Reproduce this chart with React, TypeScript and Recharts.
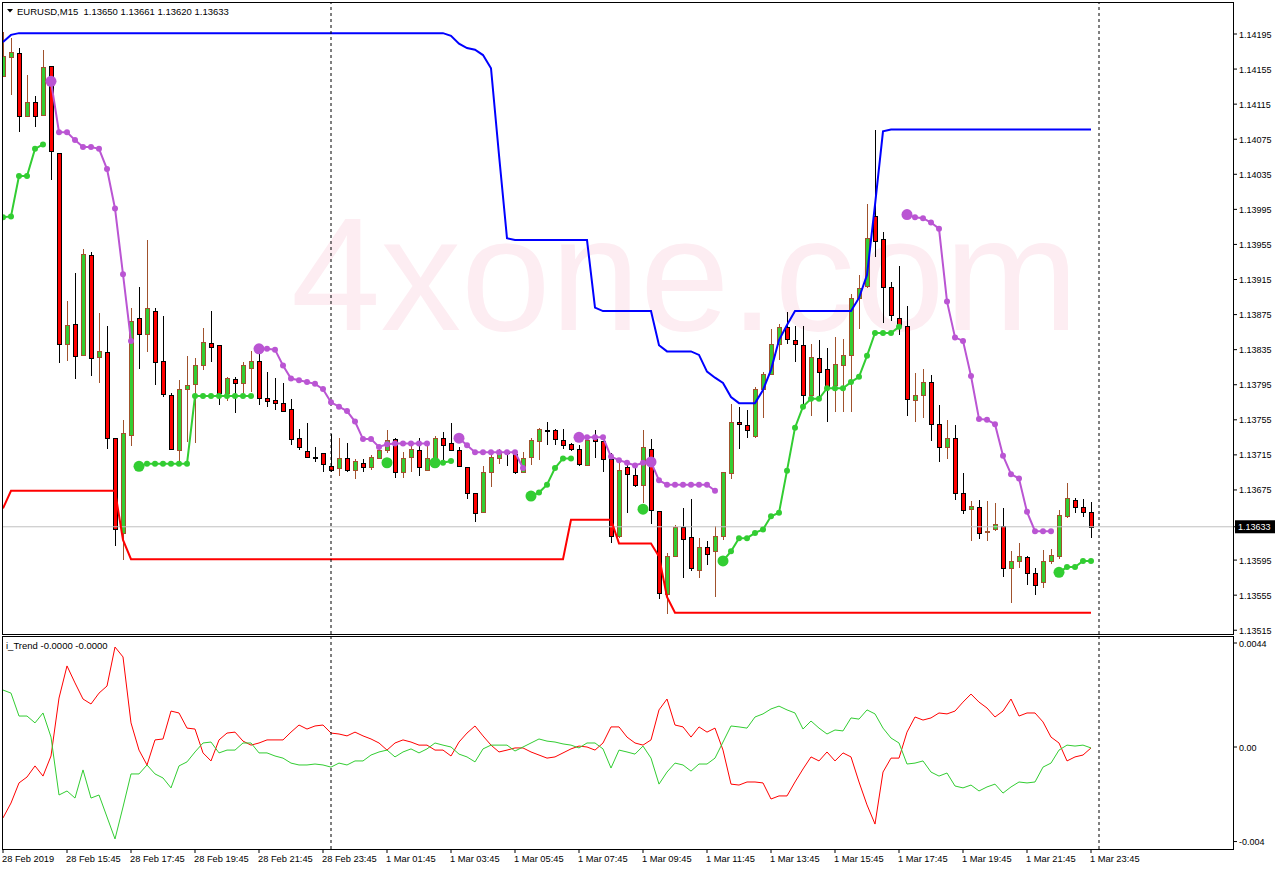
import React from 'react';
import { ComposedChart, LineChart, Line, Bar, XAxis, YAxis, ReferenceLine } from 'recharts';

const FONT = "'Liberation Sans', Arial, sans-serif";
const W = 1276;

// EURUSD M15, bars from 28 Feb 13:45 to 1 Mar 23:45
const opens = [
  1.14147, 1.14169, 1.14173, 1.14102, 1.14118, 1.14103, 1.14158, 1.14059, 1.13842, 1.13864,
  1.13829, 1.13943, 1.13827, 1.13832, 1.13734, 1.13626, 1.13738, 1.13871, 1.13853, 1.13879,
  1.13822, 1.13783, 1.13721, 1.13790, 1.13796, 1.13817, 1.13843, 1.13840, 1.13786, 1.13802,
  1.13797, 1.13814, 1.13822, 1.13780, 1.13778, 1.13774, 1.13767, 1.13734, 1.13719, 1.13713,
  1.13717, 1.13702, 1.13700, 1.13711, 1.13698, 1.13706, 1.13701, 1.13711, 1.13721, 1.13733,
  1.13695, 1.13712, 1.13721, 1.13698, 1.13710, 1.13734, 1.13728, 1.13720, 1.13701, 1.13671,
  1.13650, 1.13695, 1.13711, 1.13718, 1.13716, 1.13695, 1.13712, 1.13731, 1.13743, 1.13743,
  1.13732, 1.13727, 1.13722, 1.13704, 1.13733, 1.13731, 1.13710, 1.13622, 1.13701, 1.13692,
  1.13681, 1.13722, 1.13651, 1.13556, 1.13600, 1.13633, 1.13621, 1.13584, 1.13610, 1.13605,
  1.13622, 1.13694, 1.13753, 1.13749, 1.13737, 1.13790, 1.13807, 1.13842, 1.13861, 1.13846,
  1.13840, 1.13783, 1.13826, 1.13813, 1.13795, 1.13818, 1.13829, 1.13894, 1.13908, 1.13988,
  1.13961, 1.13907, 1.13871, 1.13862, 1.13778, 1.13783, 1.13798, 1.13750, 1.13724, 1.13734,
  1.13671, 1.13653, 1.13655, 1.13627, 1.13630, 1.13634, 1.13586, 1.13594, 1.13598, 1.13580,
  1.13570, 1.13594, 1.13600, 1.13645, 1.13664, 1.13655, 1.13650,
];
const highs = [
  1.14197, 1.14190, 1.14179, 1.14148, 1.14124, 1.14177, 1.14158, 1.14059, 1.13891, 1.13922,
  1.13950, 1.13946, 1.13877, 1.13862, 1.13734, 1.13755, 1.13883, 1.13907, 1.13960, 1.13883,
  1.13873, 1.13785, 1.13800, 1.13828, 1.13826, 1.13860, 1.13879, 1.13840, 1.13804, 1.13804,
  1.13821, 1.13834, 1.13830, 1.13810, 1.13803, 1.13797, 1.13779, 1.13744, 1.13751, 1.13724,
  1.13717, 1.13739, 1.13734, 1.13728, 1.13710, 1.13710, 1.13715, 1.13722, 1.13743, 1.13734,
  1.13718, 1.13728, 1.13734, 1.13728, 1.13737, 1.13741, 1.13751, 1.13724, 1.13701, 1.13672,
  1.13702, 1.13720, 1.13722, 1.13720, 1.13719, 1.13718, 1.13734, 1.13746, 1.13753, 1.13744,
  1.13744, 1.13729, 1.13726, 1.13735, 1.13743, 1.13731, 1.13717, 1.13706, 1.13709, 1.13706,
  1.13743, 1.13733, 1.13651, 1.13603, 1.13635, 1.13654, 1.13665, 1.13620, 1.13617, 1.13634,
  1.13695, 1.13773, 1.13770, 1.13766, 1.13792, 1.13809, 1.13859, 1.13864, 1.13878, 1.13862,
  1.13862, 1.13841, 1.13846, 1.13837, 1.13849, 1.13847, 1.13898, 1.13920, 1.14001, 1.14086,
  1.13969, 1.13912, 1.13930, 1.13885, 1.13808, 1.13813, 1.13806, 1.13772, 1.13755, 1.13749,
  1.13694, 1.13662, 1.13664, 1.13662, 1.13660, 1.13654, 1.13605, 1.13614, 1.13600, 1.13586,
  1.13606, 1.13608, 1.13652, 1.13683, 1.13666, 1.13665, 1.13661,
];
const lows = [
  1.14146, 1.14125, 1.14083, 1.14102, 1.14089, 1.14102, 1.14028, 1.13820, 1.13822, 1.13802,
  1.13829, 1.13805, 1.13797, 1.13722, 1.13611, 1.13595, 1.13725, 1.13813, 1.13832, 1.13795,
  1.13781, 1.13721, 1.13706, 1.13730, 1.13729, 1.13812, 1.13821, 1.13772, 1.13776, 1.13763,
  1.13786, 1.13787, 1.13772, 1.13770, 1.13766, 1.13765, 1.13726, 1.13721, 1.13712, 1.13707,
  1.13696, 1.13696, 1.13691, 1.13695, 1.13688, 1.13695, 1.13698, 1.13710, 1.13717, 1.13689,
  1.13689, 1.13696, 1.13691, 1.13697, 1.13702, 1.13709, 1.13720, 1.13701, 1.13665, 1.13639,
  1.13649, 1.13678, 1.13705, 1.13702, 1.13693, 1.13694, 1.13703, 1.13709, 1.13726, 1.13726,
  1.13722, 1.13719, 1.13702, 1.13704, 1.13711, 1.13695, 1.13614, 1.13620, 1.13649, 1.13678,
  1.13660, 1.13636, 1.13551, 1.13534, 1.13598, 1.13575, 1.13583, 1.13574, 1.13589, 1.13553,
  1.13618, 1.13688, 1.13722, 1.13734, 1.13734, 1.13757, 1.13806, 1.13823, 1.13842, 1.13821,
  1.13770, 1.13759, 1.13781, 1.13753, 1.13764, 1.13764, 1.13764, 1.13858, 1.13905, 1.13941,
  1.13865, 1.13868, 1.13852, 1.13759, 1.13753, 1.13757, 1.13731, 1.13707, 1.13710, 1.13663,
  1.13647, 1.13617, 1.13619, 1.13617, 1.13628, 1.13576, 1.13546, 1.13586, 1.13567, 1.13555,
  1.13563, 1.13591, 1.13596, 1.13643, 1.13649, 1.13644, 1.13620,
];
const closes = [
  1.14170, 1.14174, 1.14102, 1.14118, 1.14102, 1.14157, 1.14062, 1.13841, 1.13863, 1.13828,
  1.13944, 1.13826, 1.13833, 1.13734, 1.13630, 1.13740, 1.13868, 1.13853, 1.13883, 1.13821,
  1.13784, 1.13722, 1.13790, 1.13795, 1.13817, 1.13844, 1.13838, 1.13786, 1.13803, 1.13797,
  1.13818, 1.13822, 1.13780, 1.13777, 1.13774, 1.13765, 1.13733, 1.13724, 1.13713, 1.13713,
  1.13705, 1.13698, 1.13711, 1.13698, 1.13708, 1.13701, 1.13712, 1.13720, 1.13732, 1.13695,
  1.13711, 1.13722, 1.13701, 1.13711, 1.13734, 1.13726, 1.13720, 1.13702, 1.13671, 1.13649,
  1.13695, 1.13712, 1.13718, 1.13717, 1.13695, 1.13711, 1.13732, 1.13744, 1.13742, 1.13733,
  1.13726, 1.13722, 1.13705, 1.13732, 1.13731, 1.13710, 1.13622, 1.13698, 1.13693, 1.13681,
  1.13724, 1.13652, 1.13557, 1.13600, 1.13633, 1.13619, 1.13586, 1.13610, 1.13602, 1.13623,
  1.13695, 1.13752, 1.13750, 1.13743, 1.13790, 1.13807, 1.13841, 1.13861, 1.13847, 1.13841,
  1.13783, 1.13827, 1.13809, 1.13793, 1.13819, 1.13829, 1.13894, 1.13905, 1.13962, 1.13959,
  1.13906, 1.13874, 1.13862, 1.13779, 1.13783, 1.13798, 1.13750, 1.13724, 1.13734, 1.13671,
  1.13652, 1.13657, 1.13626, 1.13628, 1.13636, 1.13586, 1.13594, 1.13600, 1.13580, 1.13567,
  1.13594, 1.13601, 1.13646, 1.13666, 1.13655, 1.13650, 1.13633,
];

// channel lines
const upperBand = [
  1.14186, 1.14194, 1.14196, 1.14196, 1.14196, 1.14196, 1.14196, 1.14196, 1.14196, 1.14196,
  1.14196, 1.14196, 1.14196, 1.14196, 1.14196, 1.14196, 1.14196, 1.14196, 1.14196, 1.14196,
  1.14196, 1.14196, 1.14196, 1.14196, 1.14196, 1.14196, 1.14196, 1.14196, 1.14196, 1.14196,
  1.14196, 1.14196, 1.14196, 1.14196, 1.14196, 1.14196, 1.14196, 1.14196, 1.14196, 1.14196,
  1.14196, 1.14196, 1.14196, 1.14196, 1.14196, 1.14196, 1.14196, 1.14196, 1.14196, 1.14196,
  1.14196, 1.14196, 1.14196, 1.14196, 1.14196, 1.14196, 1.14193, 1.14184, 1.14179, 1.14177,
  1.14171, 1.14156, 1.14057, 1.13962, 1.13960, 1.13960, 1.13960, 1.13960, 1.13960, 1.13960,
  1.13960, 1.13960, 1.13960, 1.13960, 1.13883, 1.13879, 1.13879, 1.13879, 1.13879, 1.13879,
  1.13879, 1.13879, 1.13840, 1.13833, 1.13833, 1.13833, 1.13833, 1.13829, 1.13810, 1.13803,
  1.13797, 1.13781, 1.13774, 1.13774, 1.13774, 1.13789, 1.13812, 1.13846, 1.13863, 1.13879,
  1.13879, 1.13879, 1.13879, 1.13879, 1.13879, 1.13879, 1.13879, 1.13894, 1.13920, 1.14000,
  1.14084, 1.14086, 1.14086, 1.14086, 1.14086, 1.14086, 1.14086, 1.14086, 1.14086, 1.14086,
  1.14086, 1.14086, 1.14086, 1.14086, 1.14086, 1.14086, 1.14086, 1.14086, 1.14086, 1.14086,
  1.14086, 1.14086, 1.14086, 1.14086, 1.14086, 1.14086, 1.14086,
];
const lowerBand = [
  1.13654, 1.13674, 1.13674, 1.13674, 1.13674, 1.13674, 1.13674, 1.13674, 1.13674, 1.13674,
  1.13674, 1.13674, 1.13674, 1.13674, 1.13674, 1.13618, 1.13596, 1.13596, 1.13596, 1.13596,
  1.13596, 1.13596, 1.13596, 1.13596, 1.13596, 1.13596, 1.13596, 1.13596, 1.13596, 1.13596,
  1.13596, 1.13596, 1.13596, 1.13596, 1.13596, 1.13596, 1.13596, 1.13596, 1.13596, 1.13596,
  1.13596, 1.13596, 1.13596, 1.13596, 1.13596, 1.13596, 1.13596, 1.13596, 1.13596, 1.13596,
  1.13596, 1.13596, 1.13596, 1.13596, 1.13596, 1.13596, 1.13596, 1.13596, 1.13596, 1.13596,
  1.13596, 1.13596, 1.13596, 1.13596, 1.13596, 1.13596, 1.13596, 1.13596, 1.13596, 1.13596,
  1.13596, 1.13641, 1.13641, 1.13641, 1.13641, 1.13641, 1.13641, 1.13614, 1.13614, 1.13614,
  1.13614, 1.13614, 1.13599, 1.13553, 1.13535, 1.13535, 1.13535, 1.13535, 1.13535, 1.13535,
  1.13535, 1.13535, 1.13535, 1.13535, 1.13535, 1.13535, 1.13535, 1.13535, 1.13535, 1.13535,
  1.13535, 1.13535, 1.13535, 1.13535, 1.13535, 1.13535, 1.13535, 1.13535, 1.13535, 1.13535,
  1.13535, 1.13535, 1.13535, 1.13535, 1.13535, 1.13535, 1.13535, 1.13535, 1.13535, 1.13535,
  1.13535, 1.13535, 1.13535, 1.13535, 1.13535, 1.13535, 1.13535, 1.13535, 1.13535, 1.13535,
  1.13535, 1.13535, 1.13535, 1.13535, 1.13535, 1.13535, 1.13535,
];

// dotted trend lines (purple = down, green = up)
const N = null;
const downTrend = [
  N, N, N, N, N, N, 1.14141, 1.14083, 1.14083, 1.14074,
  1.14066, 1.14066, 1.14064, 1.14041, 1.13996, 1.13921, 1.13845, N, N, N,
  N, N, N, N, N, N, N, N, N, N,
  N, N, 1.13836, 1.13836, 1.13835, 1.13817, 1.13802, 1.13800, 1.13798, 1.13796,
  1.13790, 1.13775, 1.13770, 1.13765, 1.13753, 1.13733, 1.13733, 1.13724, 1.13727, 1.13728,
  1.13728, 1.13728, 1.13728, 1.13728, N, N, N, 1.13734, 1.13726, 1.13718,
  1.13718, 1.13718, 1.13718, 1.13718, 1.13718, 1.13700, N, N, N, N,
  N, N, 1.13735, 1.13735, 1.13735, 1.13735, 1.13713, 1.13709, 1.13706, 1.13703,
  1.13706, 1.13707, 1.13686, 1.13681, 1.13681, 1.13681, 1.13681, 1.13681, 1.13681, 1.13674,
  N, N, N, N, N, N, N, N, N, N,
  N, N, N, N, N, N, N, N, N, N,
  N, N, N, 1.13989, 1.13986, 1.13985, 1.13980, 1.13973, 1.13890, 1.13849,
  1.13845, 1.13805, 1.13756, 1.13755, 1.13750, 1.13714, 1.13693, 1.13688, 1.13650, 1.13628,
  1.13628, 1.13628, N, N, N, N, N,
];
const upTrend = [
  1.13986, 1.13987, 1.14033, 1.14033, 1.14064, 1.14069, N, N, N, N,
  N, N, N, N, N, N, N, 1.13702, 1.13705, 1.13705,
  1.13705, 1.13705, 1.13705, 1.13705, 1.13782, 1.13782, 1.13782, 1.13782, 1.13782, 1.13782,
  1.13782, 1.13782, N, N, N, N, N, N, N, N,
  N, N, N, N, N, N, N, N, 1.13706, N,
  N, N, N, N, 1.13706, 1.13706, 1.13708, N, N, N,
  N, N, N, N, N, N, 1.13668, 1.13672, 1.13681, 1.13700,
  1.13711, 1.13711, N, N, N, N, N, N, N, N,
  1.13653, N, N, N, N, N, N, N, N, N,
  1.13594, 1.13605, 1.13620, 1.13620, 1.13626, 1.13630, 1.13645, 1.13649, 1.13697, 1.13746,
  1.13770, 1.13779, 1.13779, 1.13791, 1.13791, 1.13791, 1.13798, 1.13804, 1.13828, 1.13854,
  1.13854, 1.13854, 1.13861, N, N, N, N, N, N, N,
  N, N, N, N, N, N, N, N, N, N,
  N, N, 1.13581, 1.13587, 1.13587, 1.13594, 1.13594,
];
const downStarts = [6, 32, 57, 72, 81, 113];
const upStarts = [17, 48, 54, 66, 80, 90, 132];

// i_Trend sub-window
const trendRed = [
  -0.00300, -0.00237, -0.00152, -0.00127, -0.00080, -0.00123, -0.00038, 0.00207, 0.00343, 0.00271,
  0.00203, 0.00182, 0.00228, 0.00258, 0.00423, 0.00381, 0.00102, -0.00013, -0.00076, 0.00030,
  0.00034, 0.00152, 0.00144, 0.00080, 0.00076, -0.00025, -0.00059, 0.00030, 0.00059, 0.00063,
  0.00025, 0.00008, 0.00017, 0.00030, 0.00030, 0.00030, 0.00063, 0.00093, 0.00076, 0.00089,
  0.00093, 0.00059, 0.00055, 0.00047, 0.00063, 0.00047, 0.00034, 0.00017, -0.00013, 0.00017,
  0.00030, 0.00021, 0.00008, 0.00008, -0.00013, -0.00013, -0.00038, 0.00021, 0.00059, 0.00089,
  0.00047, 0.00008, -0.00021, -0.00013, -0.00004, -0.00004, -0.00021, -0.00034, -0.00047, -0.00042,
  -0.00025, -0.00008, 0.00004, 0.00000, -0.00013, 0.00017, 0.00085, 0.00085, 0.00042, 0.00017,
  0.00008, 0.00030, 0.00157, 0.00203, 0.00093, 0.00085, 0.00042, 0.00085, 0.00063, 0.00080,
  -0.00013, -0.00157, -0.00161, -0.00148, -0.00148, -0.00152, -0.00220, -0.00207, -0.00207, -0.00148,
  -0.00093, -0.00042, -0.00059, -0.00021, -0.00059, -0.00025, -0.00042, -0.00148, -0.00245, -0.00326,
  -0.00106, -0.00047, -0.00047, 0.00063, 0.00127, 0.00114, 0.00123, 0.00144, 0.00140, 0.00152,
  0.00190, 0.00224, 0.00190, 0.00165, 0.00127, 0.00152, 0.00203, 0.00131, 0.00144, 0.00144,
  0.00106, 0.00042, 0.00017, -0.00059, -0.00042, -0.00034, -0.00004,
];
const trendGreen = [
  0.00241, 0.00228, 0.00131, 0.00131, 0.00102, 0.00144, 0.00042, -0.00203, -0.00186, -0.00216,
  -0.00097, -0.00216, -0.00203, -0.00296, -0.00389, -0.00254, -0.00114, -0.00114, -0.00076, -0.00114,
  -0.00131, -0.00173, -0.00080, -0.00063, -0.00021, 0.00017, 0.00021, -0.00025, -0.00013, -0.00013,
  0.00017, 0.00017, -0.00025, -0.00025, -0.00038, -0.00047, -0.00068, -0.00076, -0.00076, -0.00072,
  -0.00076, -0.00085, -0.00068, -0.00076, -0.00059, -0.00059, -0.00034, -0.00021, -0.00013, -0.00042,
  -0.00021, -0.00008, -0.00025, -0.00008, 0.00017, 0.00008, 0.00000, -0.00030, -0.00042, -0.00063,
  -0.00008, 0.00008, 0.00008, 0.00008, -0.00017, 0.00000, 0.00017, 0.00034, 0.00025, 0.00021,
  0.00013, 0.00008, -0.00004, 0.00017, 0.00017, -0.00008, -0.00089, -0.00013, -0.00021, -0.00030,
  0.00004, -0.00047, -0.00157, -0.00106, -0.00068, -0.00076, -0.00102, -0.00072, -0.00072, -0.00047,
  0.00021, 0.00089, 0.00085, 0.00080, 0.00127, 0.00140, 0.00161, 0.00173, 0.00157, 0.00144,
  0.00076, 0.00110, 0.00080, 0.00055, 0.00072, 0.00068, 0.00123, 0.00118, 0.00157, 0.00140,
  0.00080, 0.00038, 0.00017, -0.00072, -0.00068, -0.00059, -0.00106, -0.00123, -0.00110, -0.00165,
  -0.00173, -0.00161, -0.00186, -0.00169, -0.00157, -0.00195, -0.00169, -0.00148, -0.00152, -0.00148,
  -0.00085, -0.00068, -0.00013, 0.00008, 0.00004, 0.00008, -0.00004,
];

const currentPrice = 1.13633;
const priceTicks = [
  1.14195, 1.14155, 1.14115, 1.14075, 1.14035, 1.13995, 1.13955, 1.13915, 1.13875,
  1.13835, 1.13795, 1.13755, 1.13715, 1.13675, 1.13595, 1.13555, 1.13515,
];
const trendTicks = [0.0044, 0, -0.004];
const trendTickLabels = ['0.0044', '0.00', '-0.004'];
const timeTicks = [0, 8, 16, 24, 32, 40, 48, 56, 64, 72, 80, 88, 96, 104, 112, 120, 128, 136];
const timeLabels = [
  '28 Feb 2019', '28 Feb 15:45', '28 Feb 17:45', '28 Feb 19:45', '28 Feb 21:45', '28 Feb 23:45',
  '1 Mar 01:45', '1 Mar 03:45', '1 Mar 05:45', '1 Mar 07:45', '1 Mar 09:45', '1 Mar 11:45',
  '1 Mar 13:45', '1 Mar 15:45', '1 Mar 17:45', '1 Mar 19:45', '1 Mar 21:45', '1 Mar 23:45',
];
const daySeparators = [41, 137];

const X_DOMAIN: [number, number] = [-0.125, 153.75];
const PRICE_DOMAIN: [number, number] = [1.135107, 1.142315];
const TREND_DOMAIN: [number, number] = [-0.004315, 0.004654];

const rows = opens.map((open, i) => ({
  i,
  open,
  high: highs[i],
  low: lows[i],
  close: closes[i],
  upper: upperBand[i],
  lower: lowerBand[i],
  down: downTrend[i],
  up: upTrend[i],
  downStart: downStarts.includes(i),
  upStart: upStarts.includes(i),
}));
const subRows = trendRed.map((red, i) => ({ i, red, green: trendGreen[i] }));

const Candle = (props: any) => {
  const { x, y, width, height, payload } = props;
  if (x == null || y == null || !payload) return <g />;
  const { open, high, low, close } = payload;
  const cx = Math.round(x + width / 2);
  const span = high - low;
  const py = (p: number) => y + (span > 0 ? ((high - p) / span) * height : 0);
  const bull = close > open;
  const top = Math.round(py(Math.max(open, close)));
  const bot = Math.round(py(Math.min(open, close)));
  const stroke = bull ? '#A0522D' : '#000000';
  return (
    <g>
      <line x1={cx + 0.5} x2={cx + 0.5} y1={Math.round(y)} y2={Math.round(y + height)} stroke={stroke} strokeWidth={1} />
      <rect
        x={cx - 1.5}
        y={top + 0.5}
        width={4}
        height={Math.max(bot - top, 1)}
        fill={bull ? '#32CD32' : '#FF0000'}
        stroke={stroke}
        strokeWidth={1}
      />
    </g>
  );
};

const makeDot = (color: string, valKey: string, startKey: string) => (props: any) => {
  const { cx, cy, payload, index } = props;
  if (cx == null || cy == null || !payload || payload[valKey] == null) {
    return <g key={`${valKey}-${index}`} />;
  }
  return <circle key={`${valKey}-${index}`} cx={cx} cy={cy} r={payload[startKey] ? 5.5 : 3} fill={color} stroke="none" />;
};

const PriceTick = (props: any) => {
  const { x, y, payload } = props;
  const v = payload.value;
  if (Math.abs(v - currentPrice) < 1e-7) {
    return (
      <g>
        <rect x={x - 4} y={y - 6.5} width={40} height={13} fill="#000" />
        <text x={x - 1} y={y + 3.5} fill="#fff" fontSize={9} fontFamily={FONT}>{v.toFixed(5)}</text>
      </g>
    );
  }
  return <text x={x} y={y + 3.5} fill="#000" fontSize={9} fontFamily={FONT}>{v.toFixed(5)}</text>;
};

const TrendTick = (props: any) => {
  const { x, y, payload } = props;
  const k = trendTicks.indexOf(payload.value);
  return <text x={x} y={y + 3.5} fill="#000" fontSize={9} fontFamily={FONT}>{k >= 0 ? trendTickLabels[k] : ''}</text>;
};

const TimeTick = (props: any) => {
  const { x, y, payload } = props;
  const k = timeTicks.indexOf(payload.value);
  return <text x={x - 1} y={y + 7} fill="#000" fontSize={9.3} fontFamily={FONT}>{k >= 0 ? timeLabels[k] : ''}</text>;
};

export default function App() {
  return (
    <div style={{ position: 'absolute', left: 0, top: 0, width: W, height: 870, background: '#fff', overflow: 'hidden' }}>
      <svg width={W} height={870} style={{ position: 'absolute', left: 0, top: 0 }}>
        <text x={291} y={330} fontSize={161} fontFamily={FONT} fill="#FDEDF2">4xone.com</text>
      </svg>
      <div style={{ position: 'absolute', left: 0, top: 0 }}>
        <ComposedChart width={W} height={636} data={rows} margin={{ top: 2, right: 0, bottom: 2, left: 2 }}>
          <XAxis type="number" dataKey="i" domain={X_DOMAIN} allowDataOverflow hide />
          <YAxis
            orientation="right"
            width={43}
            type="number"
            domain={PRICE_DOMAIN}
            allowDataOverflow
            ticks={[...priceTicks, currentPrice]}
            interval={0}
            tick={(p: any) => <PriceTick {...p} />}
            tickSize={4}
            tickMargin={2}
            tickLine={{ stroke: '#000' }}
            axisLine={false}
          />
          <ReferenceLine y={currentPrice} stroke="#C0C0C0" strokeWidth={1} />
          <Bar
            dataKey={(d: any) => [d.low, d.high]}
            barSize={6}
            shape={(p: any) => <Candle {...p} />}
            isAnimationActive={false}
          />
          <Line type="linear" dataKey="upper" stroke="#0000FF" strokeWidth={2} dot={false} isAnimationActive={false} />
          <Line type="linear" dataKey="lower" stroke="#FF0000" strokeWidth={2} dot={false} isAnimationActive={false} />
          <Line
            type="linear"
            dataKey="down"
            stroke="#BA55D3"
            strokeWidth={2}
            dot={makeDot('#BA55D3', 'down', 'downStart')}
            activeDot={false}
            isAnimationActive={false}
          />
          <Line
            type="linear"
            dataKey="up"
            stroke="#32CD32"
            strokeWidth={2}
            dot={makeDot('#32CD32', 'up', 'upStart')}
            activeDot={false}
            isAnimationActive={false}
          />
          {daySeparators.map((s) => (
            <ReferenceLine key={s} x={s} stroke="#000" strokeWidth={1} strokeDasharray="3 3" />
          ))}
        </ComposedChart>
      </div>
      <div style={{ position: 'absolute', left: 0, top: 636 }}>
        <LineChart width={W} height={234} data={subRows} margin={{ top: 1, right: 0, bottom: 0, left: 2 }}>
          <XAxis
            type="number"
            dataKey="i"
            domain={X_DOMAIN}
            allowDataOverflow
            ticks={timeTicks}
            interval={0}
            height={21}
            tickSize={4}
            tickMargin={2}
            tickLine={{ stroke: '#000' }}
            axisLine={false}
            tick={(p: any) => <TimeTick {...p} />}
          />
          <YAxis
            orientation="right"
            width={43}
            type="number"
            domain={TREND_DOMAIN}
            allowDataOverflow
            ticks={trendTicks}
            interval={0}
            tick={(p: any) => <TrendTick {...p} />}
            tickSize={4}
            tickMargin={2}
            tickLine={{ stroke: '#000' }}
            axisLine={false}
          />
          <Line type="linear" dataKey="red" stroke="#FF0000" strokeWidth={1} dot={false} activeDot={false} isAnimationActive={false} />
          <Line type="linear" dataKey="green" stroke="#32CD32" strokeWidth={1} dot={false} activeDot={false} isAnimationActive={false} />
          {daySeparators.map((s) => (
            <ReferenceLine key={s} x={s} stroke="#000" strokeWidth={1} strokeDasharray="3 3" />
          ))}
        </LineChart>
      </div>
      <svg width={W} height={870} style={{ position: 'absolute', left: 0, top: 0, pointerEvents: 'none' }}>
        <rect x={2.5} y={2.5} width={1231} height={632} fill="none" stroke="#000" strokeWidth={1} />
        <rect x={2.5} y={636.5} width={1231} height={213} fill="none" stroke="#000" strokeWidth={1} />
        <polygon points="7,9 13,9 10,12.5" fill="#000" />
        <text x={17} y={15} fontSize={9.5} fontFamily={FONT} fill="#000" style={{ whiteSpace: 'pre' }}>
          {'EURUSD,M15  1.13650 1.13661 1.13620 1.13633'}
        </text>
        <text x={6} y={649} fontSize={9.5} fontFamily={FONT} fill="#000">i_Trend -0.0000 -0.0000</text>
      </svg>
    </div>
  );
}
